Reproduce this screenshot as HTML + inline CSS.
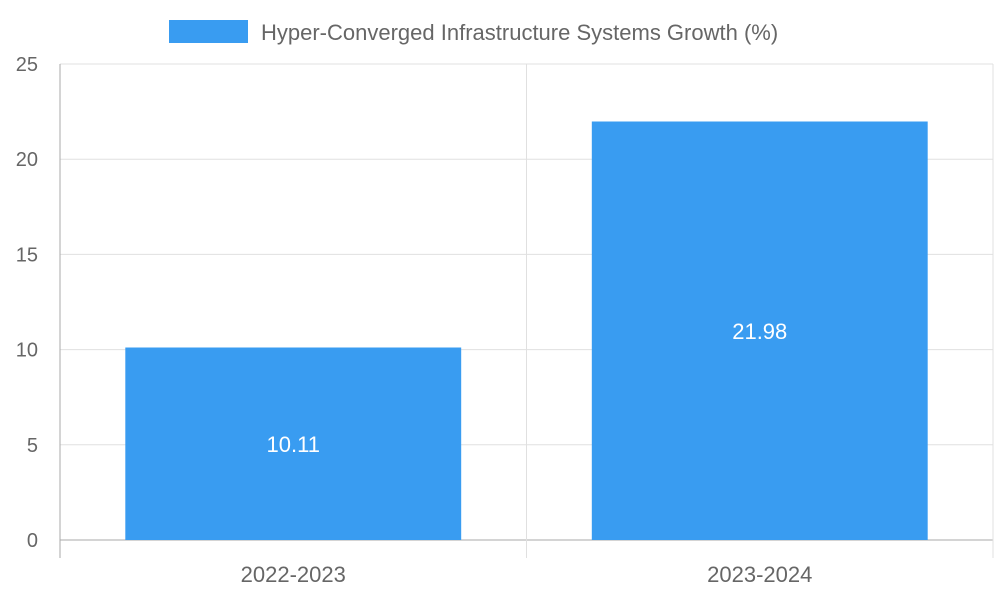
<!DOCTYPE html>
<html><head><meta charset="utf-8"><style>
body{margin:0;background:#fff;}
svg text{font-family:"Liberation Sans",sans-serif;}
</style></head><body>
<svg id="chart" width="1000" height="600" xmlns="http://www.w3.org/2000/svg">
<g id="legend">
<rect x="169" y="20" width="79" height="23" fill="#399cf1"/>
<text x="261" y="40" font-size="22" fill="#666">Hyper-Converged Infrastructure Systems Growth (%)</text>
</g>
<g id="grid"></g><g id="bars"></g><g id="labels"></g>
</svg>
<script>
const categories=["2022-2023","2023-2024"];
const values=[10.11,21.98];
const yTicks=[0,5,10,15,20,25];
const NS="http://www.w3.org/2000/svg";
const L=60,R=993,T=64,B=540,yMax=25;
const y=v=>B-(v/yMax)*(B-T);
const bw=(R-L)/categories.length;
const xc=i=>L+bw*(i+0.5);
function mk(tag,attrs,parent,txt){const e=document.createElementNS(NS,tag);for(const k in attrs)e.setAttribute(k,attrs[k]);if(txt!=null)e.textContent=txt;document.getElementById(parent).appendChild(e);return e;}
yTicks.forEach(t=>{
 const l=mk('line',{x1:L,x2:R,y1:y(t),y2:y(t),stroke:t===0?'#aaa':'#e0e0e0','stroke-width':1},'grid');
 
 
 const tx=mk('text',{x:38,y:y(t)+7,'text-anchor':'end','font-size':20,fill:'#666'},'grid',t);
 
 
});
for(let i=0;i<=categories.length;i++){
 const x=L+bw*i;
 const l=mk('line',{x1:x,x2:x,y1:T,y2:B+18,stroke:i===0?'#aaa':'#e0e0e0','stroke-width':1},'grid');
 
 
}
categories.forEach((c,i)=>{
 const w=bw*0.72;
 const r=mk('rect',{x:xc(i)-w/2,y:y(values[i]),width:w,height:B-y(values[i]),fill:'#399cf1'},'bars');
 
 
 const v=mk('text',{x:xc(i),y:(y(values[i])+B)/2+8,'text-anchor':'middle','font-size':22,fill:'#fff'},'labels',values[i].toFixed(2));
 
 
 const t=mk('text',{x:xc(i),y:582,'text-anchor':'middle','font-size':22,fill:'#666'},'labels',c);
 
 
});
</script>
</body></html>
